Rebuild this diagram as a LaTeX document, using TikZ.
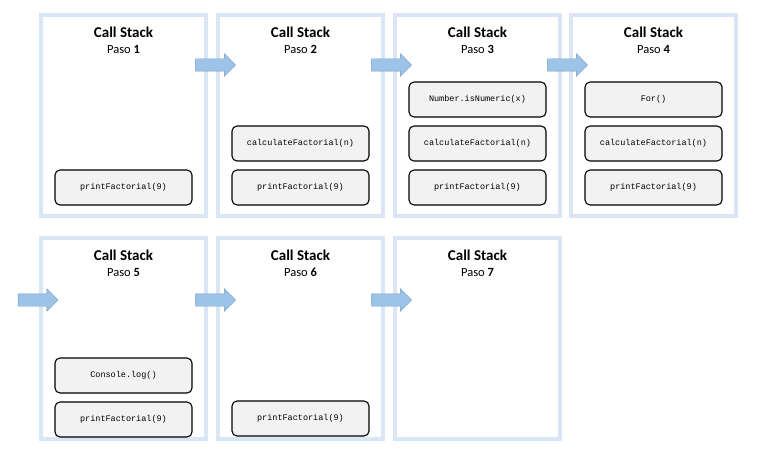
\documentclass[tikz,border=0pt]{standalone}
\usepackage{fontspec}
\setmainfont{Carlito}
\setmonofont{Liberation Mono}
\usetikzlibrary{shapes.arrows}
\definecolor{framecol}{HTML}{DAE6F3}
\definecolor{arrowcol}{HTML}{9DC3E6}
\definecolor{arrowline}{HTML}{6F9BCB}
\definecolor{boxcol}{HTML}{F2F2F2}
\tikzset{
	panel/.style = {draw = framecol, line width = 4pt, fill = white},
	frame/.style = {draw = black, line width = 1.1pt, fill = boxcol, rounded corners = 5pt,
		minimum width = 137pt, minimum height = 35pt, font = \ttfamily\fontsize{8.5}{9}\selectfont},
	move/.style  = {single arrow, draw = arrowline, fill = arrowcol, text height = 0pt,
		text depth = 0pt, inner xsep = 0pt, inner ysep = 6pt, single arrow head extend = 5pt,
		minimum height = 40pt},
	title/.style = {font = \fontsize{15}{16}\selectfont\bfseries},
	paso/.style  = {font = \fontsize{12.5}{13}\selectfont}
}
\begin{document}
\begin{tikzpicture}[x = 1pt, y = -1pt]

	\useasboundingbox (0,0) rectangle (768,460);

	% panels
	\foreach \name/\x/\y/\n in {p1/41/15/1, p2/218/15/2, p3/395/15/3, p4/571/15/4,
	                            p5/41/238/5, p6/218/238/6, p7/395/238/7} {
		\draw[panel] (\x, \y) rectangle ++(165, 201);
		\node[title] (\name t) at (\x + 82.5, \y + 17) {Call Stack};
		\node[paso]  (\name s) at (\x + 82.5, \y + 34) {Paso \textbf{\n}};
	}

	% arrows
	\node[move] (a12) at (212.5,  65) {};
	\node[move] (a23) at (388.5,  65) {};
	\node[move] (a34) at (564.5,  65) {};
	\node[move] (a45) at ( 35.0, 300) {};
	\node[move] (a56) at (212.5, 300) {};
	\node[move] (a67) at (388.5, 300) {};

	% paso 1
	\node[frame] (p1a) at (123.5, 187.5) {printFactorial(9)};
	% paso 2
	\node[frame] (p2a) at (300.5, 187.5) {printFactorial(9)};
	\node[frame] (p2b) at (300.5, 143.5) {calculateFactorial(n)};
	% paso 3
	\node[frame] (p3a) at (477.5, 187.5) {printFactorial(9)};
	\node[frame] (p3b) at (477.5, 143.5) {calculateFactorial(n)};
	\node[frame] (p3c) at (477.5,  99.5) {Number.isNumeric(x)};
	% paso 4
	\node[frame] (p4a) at (653.5, 187.5) {printFactorial(9)};
	\node[frame] (p4b) at (653.5, 143.5) {calculateFactorial(n)};
	\node[frame] (p4c) at (653.5,  99.5) {For()};
	% paso 5
	\node[frame] (p5a) at (123.5, 419.5) {printFactorial(9)};
	\node[frame] (p5b) at (123.5, 375.5) {Console.log()};
	% paso 6
	\node[frame] (p6a) at (300.5, 418.5) {printFactorial(9)};
\end{tikzpicture}
\end{document}
